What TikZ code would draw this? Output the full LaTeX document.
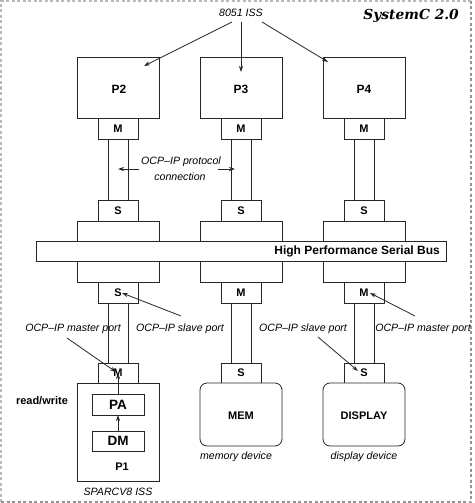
\documentclass[tikz,border=0pt]{standalone}
\usepackage{fontspec}
\setsansfont{Liberation Sans}
\newfontfamily\titlefont{DejaVu Serif}
\usetikzlibrary{arrows.meta}
\tikzset{
  x=1pt,y=-1pt,
  ln/.style={draw=black!85, line width=0.8pt},
  bx/.style={ln, fill=white},
  lbl/.style={font=\sffamily\bfseries\fontsize{12}{14}\selectfont, inner sep=0pt},
  plbl/.style={font=\sffamily\bfseries\fontsize{11}{13}\selectfont, inner sep=0pt},
  itl/.style={font=\sffamily\itshape\fontsize{10.6}{12}\selectfont, inner sep=0pt},
  arr/.style={ln, -{Stealth[length=6pt,width=4pt]}},
}
\begin{document}
\begin{tikzpicture}
\useasboundingbox (0,0) rectangle (474,503);
% border
\draw[gray!55, line width=1.2pt, dash pattern=on 3pt off 2.5pt] (471,1) -- (1,1) -- (1,502);
\draw[gray!85, line width=1.2pt, dash pattern=on 3pt off 2.5pt] (471,1) -- (471,502) -- (1,502);

\node[font=\titlefont\bfseries\itshape\fontsize{13.8}{16}\selectfont, anchor=east, inner sep=0pt] (title) at (459,16) {SystemC 2.0};
\node[itl] (iss) at (241,13) {8051 ISS};

% bus
\draw[bx] (36,241) rectangle (446,261);
\node[lbl, anchor=east] (bus) at (440,251.5) {High Performance Serial Bus};

% columns
\foreach \cx/\nm in {118/a,241/b,364/c}{
  \draw[bx] (\cx-41,57) rectangle (\cx+41,118);
  \draw[bx] (\cx-20,118) rectangle (\cx+20,139);
  \draw[ln] (\cx-10,139) -- (\cx-10,200);
  \draw[ln] (\cx+10,139) -- (\cx+10,200);
  \draw[bx] (\cx-20,200) rectangle (\cx+20,221);
  \draw[bx] (\cx-41,221) rectangle (\cx+41,241);
  \draw[bx] (\cx-41,261) rectangle (\cx+41,282);
  \draw[bx] (\cx-20,282) rectangle (\cx+20,303);
  \draw[ln] (\cx-10,303) -- (\cx-10,363);
  \draw[ln] (\cx+10,303) -- (\cx+10,363);
  \draw[bx] (\cx-20,363) rectangle (\cx+20,383);
  \node[plbl] (tm\nm) at (\cx,128.5) {M};
  \node[plbl] (ts\nm) at (\cx,210.5) {S};
}
\node[lbl] (p2) at (119,89) {P2};
\node[lbl] (p3) at (241,89) {P3};
\node[lbl] (p4) at (364,89) {P4};

\node[plbl] (ls) at (118,292.5) {S};
\node[plbl] (lm) at (241,292.5) {M};
\node[plbl] (lm2) at (364,292.5) {M};

\node[plbl] (bm) at (118,373) {M};
\node[plbl] (bs) at (241,373) {S};
\node[plbl] (bs2) at (364,373) {S};

% P1
\draw[bx] (77,383) rectangle (159,481);
\draw[bx] (92,394) rectangle (144,415);
\draw[bx] (92,431) rectangle (144,451);
\node[lbl, font=\sffamily\bfseries\fontsize{13.5}{15}\selectfont] (pa) at (118,404.5) {PA};
\node[lbl, font=\sffamily\bfseries\fontsize{13.5}{15}\selectfont] (dm) at (118,441) {DM};
\node[plbl] (p1) at (122,467) {P1};
\coordinate (dmt) at (118,431);
\coordinate (pab) at (118,415);
\coordinate (pat) at (118,394);
\coordinate (mb) at (118,373);
\draw[arr] (dmt) -- (pab);
\draw[arr] (pat) -- (mb);
\node[plbl] (rw) at (42,401) {read/write};
\node[itl] (sparc) at (118,492) {SPARCV8 ISS};

% MEM, DISPLAY
\draw[bx, rounded corners=7pt] (200,383) rectangle (282,446);
\draw[bx, rounded corners=7pt] (323,383) rectangle (405,446);
\node[plbl] (mem) at (241,416) {MEM};
\node[plbl] (disp) at (364,416) {DISPLAY};
\node[itl] (memd) at (236,457) {memory device};
\node[itl] (dispd) at (364,457) {display device};

% 8051 arrows
\coordinate (i1) at (232,22);
\coordinate (i2) at (241,22);
\coordinate (i3) at (262,22);
\coordinate (t1) at (144,66);
\coordinate (t2) at (241,72);
\coordinate (t3) at (328,62);
\draw[arr] (i1) -- (t1);
\draw[arr] (i2) -- (t2);
\draw[arr] (i3) -- (t3);

% protocol connection
\node[itl] (prot1) at (181,161.5) {OCP--IP protocol};
\node[itl] (prot2) at (180,176.5) {connection};
\coordinate (pl) at (139,169);
\coordinate (pr) at (218,169);
\coordinate (plt) at (118,169);
\coordinate (prt) at (235,169);
\draw[arr] (pl) -- (plt);
\draw[arr] (pr) -- (prt);

% port labels
\node[itl] (mp1) at (73,329) {OCP--IP master port};
\node[itl] (sp1) at (180,329) {OCP--IP slave port};
\node[itl] (sp2) at (303,329) {OCP--IP slave port};
\node[itl] (mp2) at (423,329) {OCP--IP master port};
\coordinate (a1s) at (67,338);
\coordinate (a1t) at (116,372);
\coordinate (a2s) at (181,316);
\coordinate (a2t) at (122,293);
\coordinate (a3s) at (318,337);
\coordinate (a3t) at (358,371);
\coordinate (a4s) at (415,316);
\coordinate (a4t) at (370,293);
\draw[arr] (a1s) -- (a1t);
\draw[arr] (a2s) -- (a2t);
\draw[arr] (a3s) -- (a3t);
\draw[arr] (a4s) -- (a4t);
\end{tikzpicture}
\end{document}
